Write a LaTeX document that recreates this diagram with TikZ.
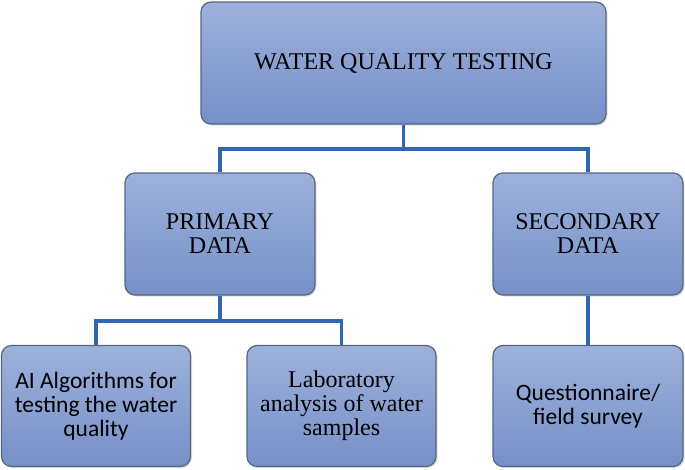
\documentclass[tikz,border=0pt]{standalone}
\usepackage{fontspec}
\setmainfont{Liberation Serif}
\newfontfamily\calib{Carlito}
\usetikzlibrary{shadows}
\definecolor{boxtop}{HTML}{9DB1DB}
\definecolor{boxbot}{HTML}{7690C8}
\definecolor{boxline}{HTML}{56667F}
\definecolor{connblue}{HTML}{3366B2}
\tikzset{
  box/.style={rectangle, rounded corners=10pt, draw=boxline, line width=1.2pt,
    top color=boxtop, bottom color=boxbot, align=center,
    drop shadow={shadow xshift=1.5pt, shadow yshift=-1.5pt, opacity=0.25},
    font=\fontsize{24}{24}\selectfont},
  sansbox/.style={box, font=\calib\fontsize{23.5}{24}\selectfont},
  conn/.style={draw=connblue, line width=3.3pt}
}
\begin{document}
\begin{tikzpicture}[x=1pt,y=-1pt]
\useasboundingbox (0,0) rectangle (685,469);
\node[box, minimum width=405pt, minimum height=122pt] (top) at (403.5,63) {WATER QUALITY TESTING};
\node[box, minimum width=190pt, minimum height=122pt] (prim) at (220,234) {PRIMARY\\DATA};
\node[box, minimum width=190pt, minimum height=122pt] (sec) at (588,234) {SECONDARY\\DATA};
\node[sansbox, minimum width=189pt, minimum height=121pt] (ai) at (96,406) {AI Algorithms for\\testing the water\\quality};
\node[box, minimum width=189pt, minimum height=121pt] (lab) at (341.5,406) {Laboratory\\analysis of water\\samples};
\node[sansbox, minimum width=190pt, minimum height=121pt] (quest) at (588,406) {Questionnaire/\\field survey};
\coordinate (j1) at (403.5,149);
\coordinate (j2) at (220,321);
\draw[conn] (top.south) -- (j1);
\draw[conn] (j1) -| (prim.north);
\draw[conn] (j1) -| (sec.north);
\draw[conn] (prim.south) -- (j2);
\draw[conn] (j2) -| (ai.north);
\draw[conn] (j2) -| (lab.north);
\draw[conn] (sec.south) -- (quest.north);
\end{tikzpicture}
\end{document}
